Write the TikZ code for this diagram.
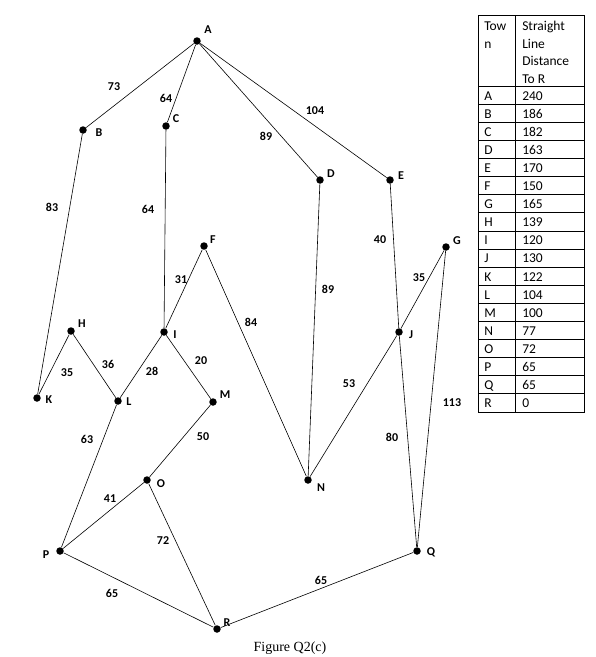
\documentclass[tikz,border=0pt]{standalone}
\usepackage{fontspec}
\setmainfont{Carlito}
\newfontfamily\capfont{Liberation Serif}
\tikzset{
  town/.style={circle,fill=black,inner sep=0pt,minimum size=7.5pt},
  townlbl/.style={font=\fontsize{12}{14}\selectfont\bfseries},
  dist/.style={font=\fontsize{12}{14}\selectfont\bfseries},
  cell/.style={anchor=base west,inner sep=0pt,font=\fontsize{13.5}{16}\selectfont},
}
\begin{document}
\begin{tikzpicture}[x=1pt,y=-1pt,line width=0.6pt]
        \useasboundingbox (0,0) rectangle (596,657);

        % towns
        \node[town] (A) at (197,41) {};
        \node[town] (B) at (83,130) {};
        \node[town] (C) at (166,126) {};
        \node[town] (D) at (320,180) {};
        \node[town] (E) at (390,180) {};
        \node[town] (F) at (204,246) {};
        \node[town] (G) at (446,247) {};
        \node[town] (H) at (71,331) {};
        \node[town] (I) at (164,332) {};
        \node[town] (J) at (399,332) {};
        \node[town] (K) at (37,398) {};
        \node[town] (L) at (118,401) {};
        \node[town] (M) at (213,402) {};
        \node[town] (N) at (308,480) {};
        \node[town] (O) at (147,480) {};
        \node[town] (P) at (60,551) {};
        \node[town] (Q) at (417,551) {};
        \node[town] (R) at (217,629) {};

        \node[townlbl] (lA) at (208,30) {A};
        \node[townlbl] (lB) at (99,133) {B};
        \node[townlbl] (lC) at (176,119) {C};
        \node[townlbl] (lD) at (331,174) {D};
        \node[townlbl] (lE) at (401,176) {E};
        \node[townlbl] (lF) at (213,240) {F};
        \node[townlbl] (lG) at (457,241) {G};
        \node[townlbl] (lH) at (82,324) {H};
        \node[townlbl] (lI) at (175,335) {I};
        \node[townlbl] (lJ) at (411,335) {J};
        \node[townlbl] (lK) at (49,400) {K};
        \node[townlbl] (lL) at (129,402) {L};
        \node[townlbl] (lM) at (225,395) {M};
        \node[townlbl] (lN) at (321,488) {N};
        \node[townlbl] (lO) at (161,484) {O};
        \node[townlbl] (lP) at (46,555) {P};
        \node[townlbl] (lQ) at (431,552) {Q};
        \node[townlbl] (lR) at (227,623) {R};

        % roads
        \draw (A) -- (B);
        \draw (A) -- (C);
        \draw (A) -- (D);
        \draw (A) -- (E);
        \draw (B) -- (K);
        \draw (C) -- (I);
        \draw (D) -- (N);
        \draw (E) -- (J);
        \draw (F) -- (I);
        \draw (F) -- (N);
        \draw (G) -- (J);
        \draw (G) -- (Q);
        \draw (H) -- (K);
        \draw (H) -- (L);
        \draw (I) -- (L);
        \draw (I) -- (M);
        \draw (J) -- (N);
        \draw (J) -- (Q);
        \draw (L) -- (P);
        \draw (M) -- (O);
        \draw (O) -- (P);
        \draw (O) -- (R);
        \draw (P) -- (R);
        \draw (R) -- (Q);

        \node[dist] (dAB) at (114,87) {73};
        \node[dist] (dAC) at (166,98) {64};
        \node[dist] (dAE) at (315,111) {104};
        \node[dist] (dAD) at (266,136) {89};
        \node[dist] (dBK) at (52,207) {83};
        \node[dist] (dCI) at (148,209) {64};
        \node[dist] (dEJ) at (380,240) {40};
        \node[dist] (dGJ) at (419,278) {35};
        \node[dist] (dDN) at (328,289) {89};
        \node[dist] (dFI) at (181,280) {31};
        \node[dist] (dFN) at (251,322) {84};
        \node[dist] (dHL) at (108,364) {36};
        \node[dist] (dHK) at (67,373) {35};
        \node[dist] (dIL) at (152,371) {28};
        \node[dist] (dIM) at (201,361) {20};
        \node[dist] (dJN) at (349,384) {53};
        \node[dist] (dGQ) at (452,403) {113};
        \node[dist] (dLP) at (87,439) {63};
        \node[dist] (dMO) at (203,437) {50};
        \node[dist] (dJQ) at (392,437) {80};
        \node[dist] (dOP) at (110,499) {41};
        \node[dist] (dOR) at (163,541) {72};
        \node[dist] (dPR) at (112,593) {65};
        \node[dist] (dRQ) at (321,580) {65};

        \node[font=\capfont\fontsize{14}{16}\selectfont] (cap) at (290,648) {Figure Q2(c)};

        % table of straight line distances
        \draw (478,15) rectangle (584,412);
        \draw (515,15) -- (515,412);
        \draw (478,86) -- (584,86);
        \node[cell] (hTa) at (484,30.5) {Tow};
        \node[cell] (hTb) at (484,48) {n};
        \node[cell] (hDa) at (522,30.5) {Straight};
        \node[cell] (hDb) at (522,48) {Line};
        \node[cell] (hDc) at (522,65.5) {Distance};
        \node[cell] (hDd) at (522,83) {To R};
        \foreach \t/\v [count=\k from 0] in {A/240,B/186,C/182,D/163,E/170,F/150,G/165,H/139,I/120,J/130,K/122,L/104,M/100,N/77,O/72,P/65,Q/65,R/0} {
            \draw (478,86+18.1*\k+18.1) -- (584,86+18.1*\k+18.1);
            \node[cell] (t\t) at (484,86+18.1*\k+14) {\t};
            \node[cell] (v\t) at (522,86+18.1*\k+14) {\v};
        }
    \end{tikzpicture}
\end{document}
